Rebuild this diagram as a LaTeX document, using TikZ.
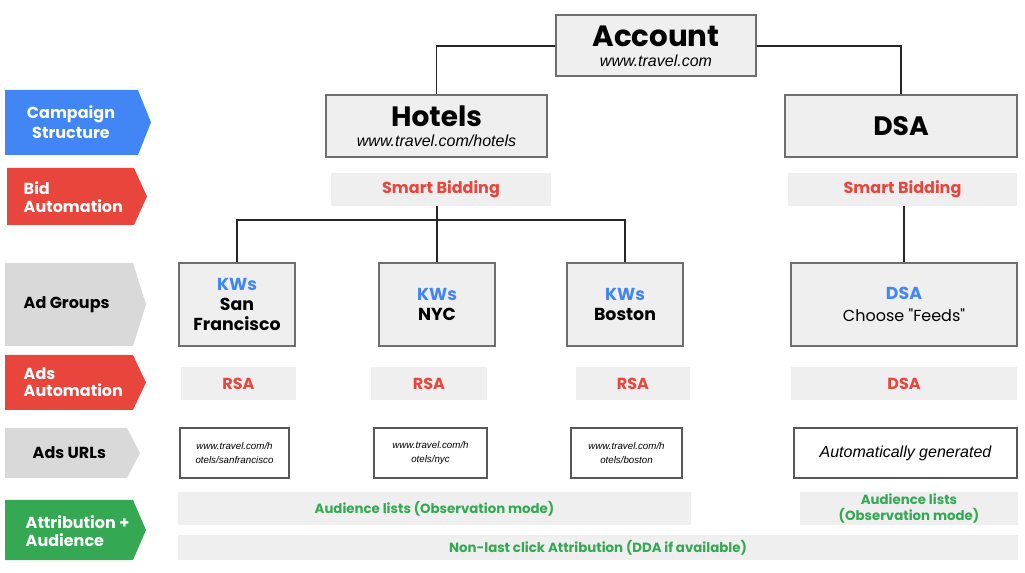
\documentclass[tikz,border=0pt]{standalone}
\usepackage{fontspec}
\setmainfont{Poppins}
\newfontfamily\arialf{Liberation Sans}
\begin{document}
\definecolor{gblue}{HTML}{4285F4}
\definecolor{gred}{HTML}{E8453C}
\definecolor{ggreen}{HTML}{34A853}
\definecolor{bandc}{HTML}{EFEFEF}
\definecolor{bord}{HTML}{6E6E6E}
\definecolor{chev}{HTML}{D9D9D9}
\begin{tikzpicture}[x=0.75pt,y=-0.75pt,
  box/.style={draw=bord,line width=1.5pt,fill=bandc,inner sep=0pt},
  band/.style={fill=bandc,inner sep=0pt},
  urlbox/.style={draw=bord!80!black,line width=0.8pt,fill=white,inner sep=0pt},
  con/.style={line width=1pt,draw=black!85},
  lbl/.style={font=\fontsize{12}{13}\selectfont\bfseries,align=left,anchor=west}]
\useasboundingbox (0,0) rectangle (1025,573);
% chevrons
\newcommand\chevr[6]{% x1,y1,x2,y2,color,name
  \fill[#5] (#1,#2) -- (#3-13,#2) -- (#3,{(#2+#4)/2}) -- (#3-13,#4) -- (#1,#4) -- cycle;
  \coordinate (#6) at (#1,{(#2+#4)/2});}
\chevr{5}{90}{151}{155}{gblue}{c1}
\chevr{7}{168}{147}{225}{gred}{c2}
\chevr{5}{263}{146}{346}{chev}{c3}
\chevr{5}{355}{146}{410}{gred}{c4}
\chevr{5}{428}{140}{478}{chev}{c5}
\chevr{5}{500}{146}{560}{ggreen}{c6}
\node[font=\fontsize{12}{15}\selectfont\bfseries,align=center,text=white] (t1) at (71,122) {Campaign\\Structure};
\node[lbl,text=white] (t2) at (19,197) {Bid\\Automation};
\node[lbl] (t3) at (19,305) {Ad Groups};
\node[lbl,text=white] (t4) at (19,382) {Ads\\Automation};
\node[lbl] (t5) at (28,453) {Ads URLs};
\node[lbl,text=white] (t6) at (21,531) {Attribution +\\Audience};
% top boxes
\node[box,minimum width=150pt,minimum height=45.75pt,align=center,font=\fontsize{12}{14}\selectfont] (acc) at (656,46)
  {{\fontsize{22}{24}\selectfont\bfseries Account}\\[1pt]{\arialf\itshape www.travel.com}};
\node[box,minimum width=165.75pt,minimum height=46.5pt,align=center,font=\fontsize{12}{14}\selectfont] (hot) at (436.5,126)
  {{\fontsize{21}{23}\selectfont\bfseries Hotels}\\[1pt]{\arialf\itshape www.travel.com/hotels}};
\node[box,minimum width=174pt,minimum height=46.5pt] (dsa) at (901,126) {\fontsize{20}{22}\selectfont\bfseries DSA};
\draw[con] (acc.west) -| (hot.north);
\draw[con] (acc.east) -| (dsa.north);
% smart bidding
\node[band,minimum width=165pt,minimum height=24.75pt,text=gred,font=\fontsize{12}{14}\selectfont\bfseries] (sb1) at (441,189.5) {Smart Bidding};
\node[band,minimum width=171.75pt,minimum height=24.75pt,text=gred,font=\fontsize{12}{14}\selectfont\bfseries] (sb2) at (902.5,189.5) {Smart Bidding};
% ad groups
\tikzset{ag/.style={box,minimum width=87pt,minimum height=62.25pt,align=center,font=\fontsize{13}{15}\selectfont\bfseries}}
\node[ag] (sf) at (237,304.5) {\textcolor{gblue}{KWs}\\San\\Francisco};
\node[ag] (nyc) at (437,304.5) {\textcolor{gblue}{KWs}\\NYC};
\node[ag] (bos) at (625,304.5) {\textcolor{gblue}{KWs}\\Boston};
\node[box,minimum width=169.5pt,minimum height=62.25pt,align=center,font=\fontsize{12}{16}\selectfont] (dsg) at (904,304.5)
  {{\fontsize{13}{15}\selectfont\bfseries\textcolor{gblue}{DSA}}\\Choose \textquotedbl Feeds\textquotedbl};
\coordinate (j) at (437,220);
\draw[con] (sb1.south -| nyc.north) -- (nyc.north);
\draw[con] (sf.north) |- (j) -| (bos.north);
\draw[con] (sb2.south -| dsg.north) -- (dsg.north);
% RSA
\tikzset{rb/.style={band,minimum height=24.75pt,text=gred,font=\fontsize{12}{14}\selectfont\bfseries}}
\node[rb,minimum width=86.25pt] (r1) at (238.5,383.5) {RSA};
\node[rb,minimum width=87pt] (r2) at (429,383.5) {RSA};
\node[rb,minimum width=85.5pt] (r3) at (633,383.5) {RSA};
\node[rb,minimum width=169.5pt] (r4) at (904,383.5) {DSA};
% URLs
\tikzset{ub/.style={urlbox,minimum height=37.5pt,align=center,font=\arialf\itshape\fontsize{7.3}{10}\selectfont}}
\node[ub,minimum width=81.75pt] (u1) at (234.5,453) {www.travel.com/h\\otels/sanfrancisco};
\node[ub,minimum width=84.75pt] (u2) at (430.5,453) {www.travel.com/h\\otels/nyc};
\node[ub,minimum width=83.25pt] (u3) at (626.5,453) {www.travel.com/h\\otels/boston};
\node[urlbox,minimum width=167.25pt,minimum height=37.5pt,font=\arialf\itshape\fontsize{12}{14}\selectfont] (u4) at (905.5,453) {Automatically generated};
% attribution
\tikzset{gb/.style={band,text=ggreen,align=center,font=\fontsize{10}{12}\selectfont\bfseries}}
\node[gb,minimum width=384.75pt,minimum height=24.75pt] (a1) at (434.5,508.5) {Audience lists (Observation mode)};
\node[gb,minimum width=163.5pt,minimum height=24.75pt] (a2) at (909,508.5) {Audience lists\\(Observation mode)};
\node[gb,minimum width=630pt,minimum height=18.75pt] (a3) at (598,547.5) {Non-last click Attribution (DDA if available)};
\end{tikzpicture}
\end{document}
